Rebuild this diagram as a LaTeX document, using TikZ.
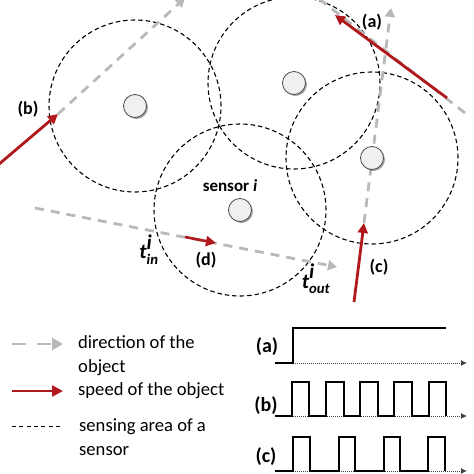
\documentclass[tikz,border=0pt]{standalone}
\usepackage{fontspec}
\setmainfont{Carlito}
\usepackage{amsmath}
\usetikzlibrary{arrows.meta,shadows}
\definecolor{dirgray}{RGB}{185,185,185}
\definecolor{spdred}{RGB}{176,24,28}
\definecolor{sensfill}{RGB}{240,240,240}
\newcommand{\bi}[1]{\text{\bfseries\itshape #1}}
\tikzset{
  area/.style={circle,draw,dash pattern=on 4.5pt off 3pt,line width=1.1pt,minimum size=172pt,inner sep=0pt},
  sensor/.style={circle,draw=black!70,fill=sensfill,line width=0.8pt,minimum size=23pt,inner sep=0pt,
    drop shadow={shadow xshift=1.5pt,shadow yshift=-1.5pt,opacity=0.35,fill=black}},
  dirarrow/.style={draw=dirgray,line width=2.8pt,dash pattern=on 9pt off 7pt,
    -{Triangle[length=9pt,width=10pt,fill=dirgray]}},
  spdarrow/.style={draw=spdred,line width=2.8pt,-{Triangle[length=10pt,width=10pt,fill=spdred]}},
  lbl/.style={font=\fontsize{18}{20}\selectfont\bfseries,inner sep=0pt},
  siglbl/.style={font=\fontsize{20}{22}\selectfont\bfseries,inner sep=0pt},
  legtext/.style={font=\fontsize{18.6}{24}\selectfont,inner sep=0pt,anchor=west,align=left},
  signal/.style={line width=1.3pt},
  axis/.style={line width=1pt,densely dotted,draw=black!75,-{Latex[length=6pt,width=6pt]}},
}
\begin{document}
\begin{tikzpicture}[x=1pt,y=-1pt]
\useasboundingbox (0,0) rectangle (474,474);
\begin{scope}
\clip (0,0) rectangle (474,474);
% sensing areas
\node[area] (c1) at (135,106) {};
\node[area] (c2) at (294,83) {};
\node[area] (c3) at (372,158) {};
\node[area] (c4) at (240,210) {};
% direction and speed (b)
\coordinate (bS) at (58,114);
\coordinate (bE) at (185,-2);
\coordinate (bR) at (-2,165);
\draw[dirarrow] (bS) -- (bE);
\draw[spdarrow] (bR) -- (bS);
% (a)
\coordinate (aS) at (465,113);
\coordinate (aE) at (318,-2);
\coordinate (aR1) at (447,98);
\coordinate (aR2) at (335,15);
\draw[draw=dirgray,line width=2.8pt,dash pattern=on 9pt off 7pt] (aS) -- (aE);
\draw[spdarrow] (aR1) -- (aR2);
% (c)
\coordinate (cS) at (364,223);
\coordinate (cE) at (391,8);
\coordinate (cR) at (354,302);
\draw[dirarrow] (cS) -- (cE);
\draw[spdarrow] (cR) -- (cS);
% (d)
\coordinate (dS) at (35,208);
\coordinate (dE) at (337,267);
\coordinate (dR1) at (185,237);
\coordinate (dR2) at (216,243);
\draw[dirarrow] (dS) -- (dE);
\draw[spdarrow,line width=2.6pt] (dR1) -- (dR2);
\end{scope}
% sensors
\node[sensor] (s1) at (135,106) {};
\node[sensor] (s2) at (294,83) {};
\node[sensor] (s3) at (372,158) {};
\node[sensor] (s4) at (240,210) {};
% labels
\node[lbl] (la) at (372,22) {(a)};
\node[lbl] (lb) at (28,109) {(b)};
\node[lbl] (lc) at (379,267) {(c)};
\node[lbl] (ld) at (206,260) {(d)};
\node[inner sep=0pt,font=\fontsize{17}{19}\selectfont\bfseries] (si) at (230,186) {sensor \textit{i}};
\node[inner sep=0pt,font=\fontsize{21}{22}\selectfont] (tin) at (149,250) {$\bi{t}_{\bi{in}}^{\raisebox{1.5pt}{\bi{i}}}$};
\node[inner sep=0pt,font=\fontsize{21}{22}\selectfont] (tout) at (316,279) {$\bi{t}_{\bi{out}}^{\raisebox{2.5pt}{\bi{i}}}$};
% legend
\coordinate (l1a) at (12,344); \coordinate (l1b) at (63,344);
\draw[draw=dirgray,line width=2.8pt,dash pattern=on 14pt off 11pt,-{Triangle[length=11pt,width=12pt,fill=dirgray]}] (l1a) -- (l1b);
\node[legtext] (t1) at (78,356) {direction of the\\object};
\coordinate (l2a) at (12,391); \coordinate (l2b) at (63,391);
\draw[spdarrow,line width=2.6pt,-{Triangle[length=11pt,width=11pt,fill=spdred]}] (l2a) -- (l2b);
\node[legtext] (t2) at (78,391) {speed of the object};
\coordinate (l3a) at (12,426); \coordinate (l3b) at (62,426);
\draw[line width=0.9pt,dash pattern=on 4pt off 3.3pt] (l3a) -- (l3b);
\node[legtext] (t3) at (79,437) {sensing area of a\\sensor};
% signals
\node[siglbl] (ga) at (267,347) {(a)};
\node[siglbl] (gb) at (266,406) {(b)};
\node[siglbl] (gc) at (266,457) {(c)};
\coordinate (axa0) at (293,363); \coordinate (axa1) at (467,363);
\coordinate (axb0) at (293,416); \coordinate (axb1) at (467,416);
\coordinate (axc0) at (293,471); \coordinate (axc1) at (467,471);
\draw[axis] (axa0) -- (axa1);
\draw[axis] (axb0) -- (axb1);
\draw[axis] (axc0) -- (axc1);
\draw[signal] (275,363) -- (293,363) -- (293,328) -- (446,328);
\draw[signal] (275,416) -- (292,416) -- (292,382) -- (309,382) -- (309,416)
  -- (326,416) -- (326,382) -- (344,382) -- (344,416)
  -- (360,416) -- (360,382) -- (378,382) -- (378,416)
  -- (394,416) -- (394,382) -- (412,382) -- (412,416)
  -- (429,416) -- (429,382) -- (446,382) -- (446,416);
\draw[signal] (275,471) -- (293,471) -- (293,437) -- (310,437) -- (310,471)
  -- (339,471) -- (339,437) -- (355,437) -- (355,471)
  -- (384,471) -- (384,437) -- (400,437) -- (400,471)
  -- (428,471) -- (428,437) -- (445,437) -- (445,471);
\end{tikzpicture}
\end{document}
